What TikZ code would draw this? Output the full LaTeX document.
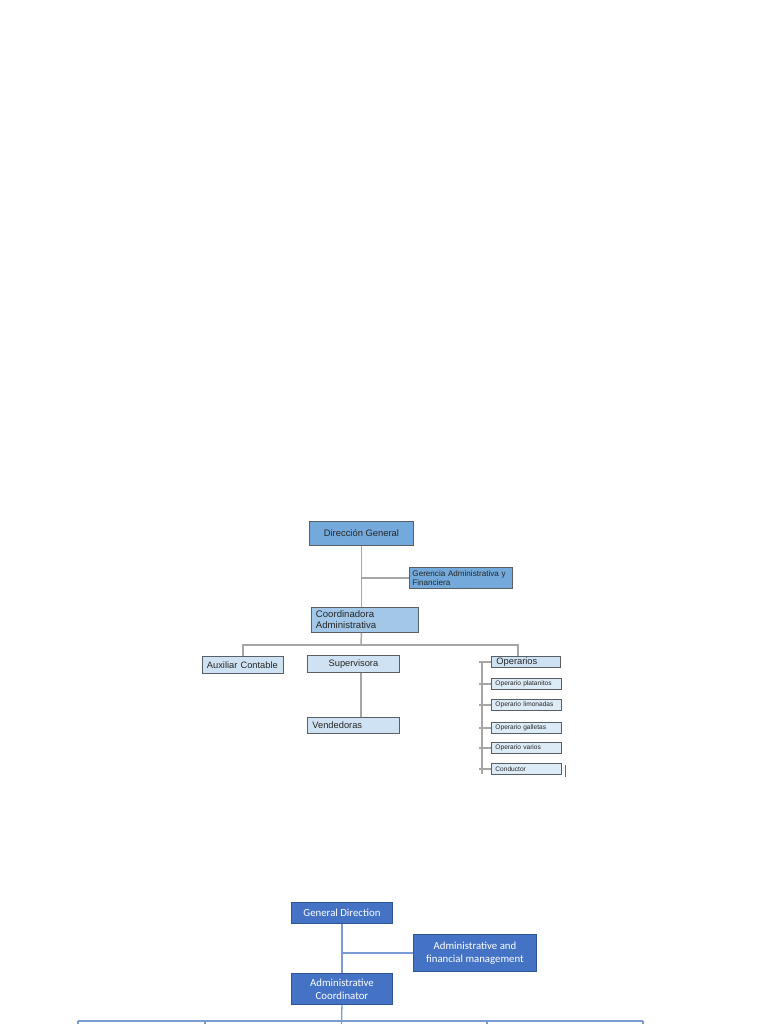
\documentclass[tikz,border=0pt]{standalone}
\usepackage{fontspec}
\setmainfont{Liberation Sans}
\newfontfamily\calibri{Carlito}
\usetikzlibrary{positioning}
\definecolor{topdark}{HTML}{74AADB}
\definecolor{topmid}{HTML}{A2C7E8}
\definecolor{toplight}{HTML}{CFE2F3}
\definecolor{topsub}{HTML}{DDEBF7}
\definecolor{topedge}{HTML}{5A5F66}
\definecolor{topline}{HTML}{A6A6A6}
\definecolor{botfill}{HTML}{4472C4}
\definecolor{botedge}{HTML}{2F5597}
\definecolor{botline}{HTML}{7A9AD4}
\newcommand\fsz[2]{\fontsize{#1}{#2}\selectfont}

\begin{document}
\begin{tikzpicture}[x=1pt,y=-1pt,
  every node/.style={inner sep=0pt,anchor=north west},
  tb/.style={draw=topedge,line width=0.9pt,text=black!85},
  lb/.style={tb,align=left,inner xsep=4.5pt},
  cb/.style={tb,align=center},
  sb/.style={lb,fill=topsub,text width=62,inner xsep=4pt,minimum height=11,font=\fsz{6.6}{7}},
  eb/.style={draw=botedge,line width=0.9pt,fill=botfill,text=white,align=center,font=\calibri\fsz{10.8}{13}},
  tl/.style={draw=topline,line width=1.5pt},
  bl/.style={draw=botline,line width=1.3pt}]
  \fill[white] (0,0) rectangle (768,1024);
  \useasboundingbox (0,0) rectangle (768,1024);

  \node[cb,fill=topdark,minimum width=104,minimum height=24,font=\fsz{9.4}{11}] (DG) at (309,521) {Dirección General};
  \node[lb,fill=topdark,text width=97,inner xsep=3pt,minimum height=21,font=\fsz{8.1}{9.3}] (GA) at (409,567) {Gerencia Administrativa y\\Financiera};
  \node[lb,fill=topmid,text width=98,minimum height=25,font=\fsz{9.6}{11}] (CA) at (311,607) {Coordinadora\\Administrativa};
  \node[lb,fill=toplight,text width=72,minimum height=17,font=\fsz{9.3}{11}] (AX) at (202,656) {Auxiliar Contable};
  \node[cb,fill=toplight,minimum width=92,minimum height=17,font=\fsz{9.3}{11}] (SV) at (307,655) {Supervisora};
  \node[lb,fill=toplight,text width=82,inner xsep=5pt,minimum height=16,font=\fsz{9.3}{11}] (VD) at (307,717) {Vendedoras};
  \node[lb,fill=toplight,text width=59,inner xsep=5pt,minimum height=11,font=\fsz{9.3}{10}] (OP) at (491,656) {Operarios};
  \node[sb] (O1) at (491,678) {Operario platanitos};
  \node[sb] (O2) at (491,699) {Operario limonadas};
  \node[sb] (O3) at (491,722) {Operario galletas};
  \node[sb] (O4) at (491,742) {Operario varios};
  \node[sb] (O5) at (491,763) {Conductor};

  \coordinate (bus) at (361,645);
  \coordinate (opd) at (518,645);
  \coordinate (brk) at (482,661);
  \coordinate (brkL) at (479,661);
  \path[tl] (DG.south) -- (DG.south |- CA.north);
  \path[tl] (DG.south |- GA.west) -- (GA.west);
  \path[tl] (DG.south |- CA.south) -- (bus);
  \path[tl] (AX.north) |- (opd) -- (opd |- OP.north);
  \path[tl] (bus |- SV.south) -- (bus |- VD.north);
  \path[tl] (brk) -- ([yshift=1]brk |- O5.south);
  \foreach \n in {OP,O1,O2,O3,O4,O5}
    \path[tl] (brkL |- \n.west) -- (\n.west);
  \coordinate (st1) at (565,765);
  \coordinate (st2) at (565,777);
  \draw[black!60,line width=0.8pt] (st1) -- (st2);

  \node[eb,minimum width=101,minimum height=21] (GD) at (291,902) {General Direction};
  \node[eb,minimum width=123,minimum height=37] (AF) at (413,934) {Administrative and\\financial management};
  \node[eb,minimum width=101,minimum height=31] (AC) at (291,973) {Administrative\\Coordinator};

  \coordinate (bL) at (78,1021);
  \coordinate (bR) at (643,1021);
  \coordinate (b0) at (341.5,1025);
  \path[bl] (GD.south) -- (AC.north);
  \path[bl] (GD.south |- AF.west) -- (AF.west);
  \path[bl] (AC.south) -- (b0);
  \path[bl] (bL) -- (bR);
  \foreach \x in {78,205,487,643}
    \path[bl] (\x,1021) -- (\x,1025);
\end{tikzpicture}
\end{document}
